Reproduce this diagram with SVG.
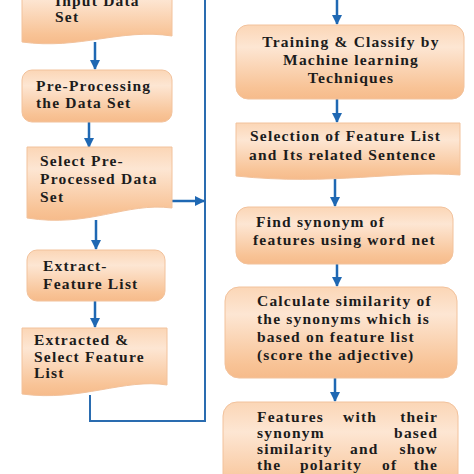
<svg xmlns="http://www.w3.org/2000/svg" width="474" height="474" viewBox="0 0 474 474">
<defs>
<linearGradient id="peach" x1="0" y1="0" x2="0" y2="1">
<stop offset="0" stop-color="#fbd6b6"/>
<stop offset="0.3" stop-color="#fde6d3"/>
<stop offset="0.85" stop-color="#f8c396"/>
<stop offset="1" stop-color="#f6bb8b"/>
</linearGradient>
<marker id="ah" viewBox="0 0 10 10" refX="9" refY="5" markerWidth="4" markerHeight="4" orient="auto" markerUnits="strokeWidth">
<path d="M0,0 L10,5 L0,10 Z" fill="#1f68b3"/>
</marker>
<style>
.box{fill:url(#peach);stroke:#f2c29c;stroke-width:1}
.t{font-family:"Liberation Serif","Times New Roman",serif;font-weight:bold;font-size:15.5px;fill:#1c1c1c;letter-spacing:1.2px}
.c{text-anchor:middle}
.e{text-anchor:end}
.arr{fill:none;stroke:#1f68b3;stroke-width:2.5;marker-end:url(#ah)}
.ln{fill:none;stroke:#2a6cb0;stroke-width:2}
</style>
</defs>
<g id="connectors">
<path class="arr" d="M95,42 V69"/>
<path class="arr" d="M89,122 V147"/>
<path class="arr" d="M96,220 V249"/>
<path class="arr" d="M95,300 V327"/>
<path class="ln" d="M90,395 V421 H205 V0"/>
<path class="arr" d="M172,201 H204"/>
<path class="arr" d="M337,0 V24"/>
<path class="arr" d="M337,99 V122"/>
<path class="arr" d="M335,179 V206"/>
<path class="arr" d="M337,264 V286"/>
<path class="arr" d="M335,378 V401"/>
</g>
<g id="input">
<path class="box" d="M22,-20 H172 V36 C120,28 80,50 22,42 Z"/>
<text class="t" x="55" y="6">Input Data</text>
<text class="t" x="55" y="22">Set</text>
</g>
<g id="preprocess">
<rect class="box" x="22" y="70" width="150" height="52" rx="10"/>
<text class="t" x="36" y="91">Pre-Processing</text>
<text class="t" x="36" y="108">the Data Set</text>
</g>
<g id="selectpre">
<path class="box" d="M27,147 H172 V208 C125,202 90,228 27,218 Z"/>
<text class="t" x="40" y="166">Select Pre-</text>
<text class="t" x="40" y="184">Processed Data</text>
<text class="t" x="40" y="202">Set</text>
</g>
<g id="extract">
<rect class="box" x="27" y="250" width="138" height="51" rx="10"/>
<text class="t" x="43" y="271">Extract-</text>
<text class="t" x="43" y="289">Feature List</text>
</g>
<g id="extracted">
<path class="box" d="M22,328 H167 V385 C125,378 80,402 22,394 Z"/>
<text class="t" x="34" y="345">Extracted &amp;</text>
<text class="t" x="34" y="362">Select Feature</text>
<text class="t" x="34" y="378">List</text>
</g>
<g id="training">
<rect class="box" x="236" y="25" width="228" height="74" rx="12"/>
<text class="t c" x="351" y="47">Training &amp; Classify by</text>
<text class="t c" x="351" y="65">Machine learning</text>
<text class="t c" x="351" y="83">Techniques</text>
</g>
<g id="selection">
<path class="box" d="M236,123 H460 V175 C400,170 330,186 236,176 Z"/>
<text class="t" x="250" y="141">Selection of Feature List</text>
<text class="t" x="249" y="160">and Its related Sentence</text>
</g>
<g id="synonym">
<rect class="box" x="236" y="207" width="217" height="57" rx="12"/>
<text class="t" x="256" y="227">Find synonym of</text>
<text class="t" x="253" y="245">features using word net</text>
</g>
<g id="similarity">
<rect class="box" x="225" y="287" width="232" height="91" rx="14"/>
<text class="t" x="257" y="306">Calculate similarity of</text>
<text class="t" x="257" y="324">the synonyms which is</text>
<text class="t" x="257" y="342">based on feature list</text>
<text class="t" x="257" y="360">(score the adjective)</text>
</g>
<g id="polarity">
<rect class="box" x="223" y="402" width="235" height="100" rx="14"/>
<text class="t" x="257" y="422">Features</text>
<text class="t" x="343" y="422">with</text>
<text class="t e" x="438" y="422">their</text>
<text class="t" x="257" y="438">synonym</text>
<text class="t e" x="438" y="438">based</text>
<text class="t" x="257" y="454">similarity</text>
<text class="t" x="350" y="454">and</text>
<text class="t e" x="438" y="454">show</text>
<text class="t" x="257" y="470">the</text>
<text class="t" x="300" y="470">polarity</text>
<text class="t" x="382" y="470">of</text>
<text class="t e" x="438" y="470">the</text>
</g>
</svg>
